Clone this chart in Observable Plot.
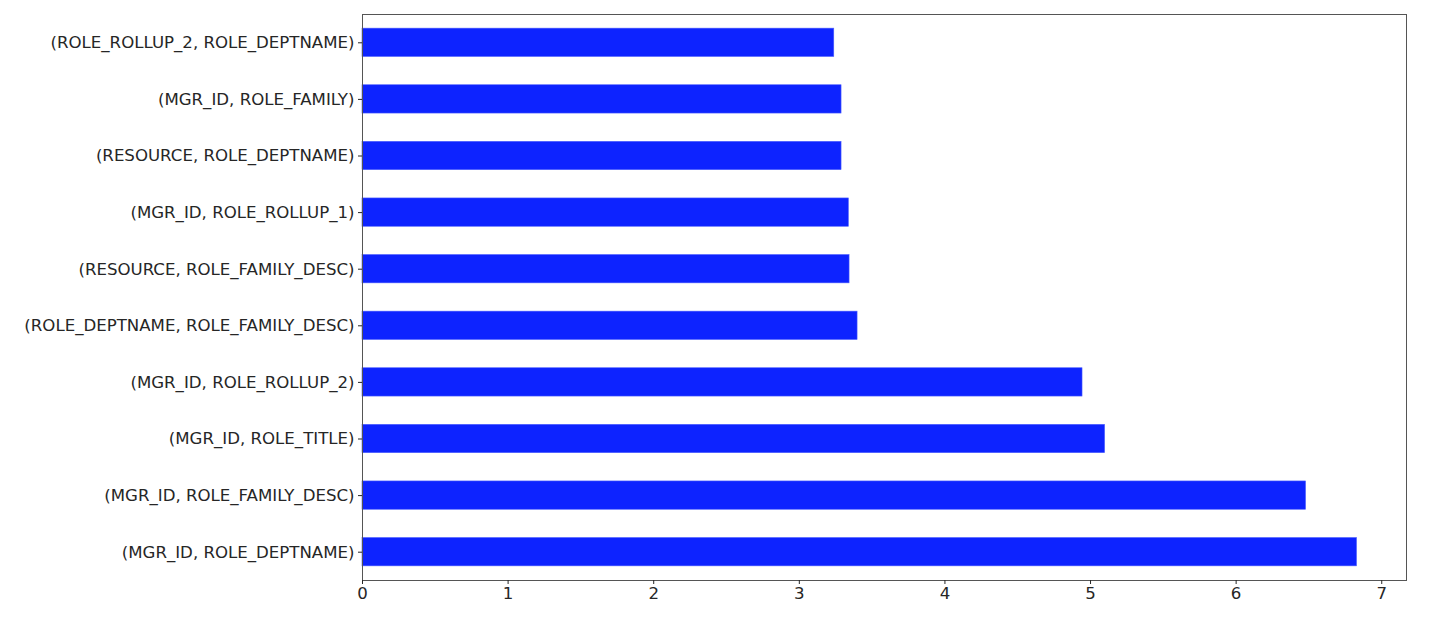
<!DOCTYPE html>
<html>
<head>
<meta charset="utf-8">
<script src="https://cdn.jsdelivr.net/npm/d3@7"></script>
<script src="https://cdn.jsdelivr.net/npm/@observablehq/plot@0.6"></script>
<style>
  html, body { margin: 0; padding: 0; background: #fff; }
  #chart svg { display: block; }
</style>
</head>
<body>
<div id="chart"></div>
<script>
// Categories, top to bottom
const labels = [
  "(ROLE_ROLLUP_2, ROLE_DEPTNAME)",
  "(MGR_ID, ROLE_FAMILY)",
  "(RESOURCE, ROLE_DEPTNAME)",
  "(MGR_ID, ROLE_ROLLUP_1)",
  "(RESOURCE, ROLE_FAMILY_DESC)",
  "(ROLE_DEPTNAME, ROLE_FAMILY_DESC)",
  "(MGR_ID, ROLE_ROLLUP_2)",
  "(MGR_ID, ROLE_TITLE)",
  "(MGR_ID, ROLE_FAMILY_DESC)",
  "(MGR_ID, ROLE_DEPTNAME)"
];
const values = [3.24, 3.29, 3.29, 3.34, 3.345, 3.40, 4.945, 5.10, 6.48, 6.83];
const xTicks = [0, 1, 2, 3, 4, 5, 6, 7];

const data = labels.map((label, i) => ({label, value: values[i]}));

const chart = Plot.plot({
  width: 1430,
  height: 617,
  marginLeft: 362,
  marginRight: 24,
  marginTop: 14,
  marginBottom: 37,
  style: {fontFamily: "DejaVu Sans", fontSize: "16.6px", color: "#262626", background: "#fff"},
  x: {domain: [0, 7.17]},
  y: {domain: labels, paddingInner: 0.5, paddingOuter: 0.25, align: 0.5, round: false},
  marks: [
    Plot.barX(data, {x: "value", y: "label", fill: "#0d23ff", stroke: "#4a5cff", strokeWidth: 0.6}),
    Plot.frame({stroke: "#555", strokeWidth: 1}),
    Plot.axisX({ticks: xTicks, tickFormat: d => String(d), tickSize: 4, tickPadding: 3, label: null, fontSize: 16.6}),
    Plot.axisY({tickSize: 4, tickPadding: 4, label: null, fontSize: 16.6})
  ]
});
document.getElementById("chart").appendChild(chart);
</script>
</body>
</html>
